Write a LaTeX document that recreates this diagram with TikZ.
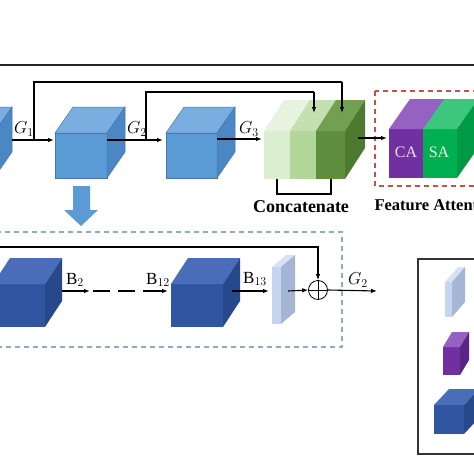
\documentclass[tikz,border=0pt]{standalone}
\usepackage{fontspec}
\setmainfont{Liberation Serif}
\usetikzlibrary{arrows.meta}

\definecolor{lbfront}{HTML}{5B9BD5}
\definecolor{lbtop}{HTML}{7AAEE1}
\definecolor{lbside}{HTML}{4A87C4}
\definecolor{lbedge}{HTML}{4577B0}
\definecolor{dbfront}{HTML}{3056A2}
\definecolor{dbtop}{HTML}{4A6DBA}
\definecolor{dbside}{HTML}{27488B}
\definecolor{slfront}{HTML}{C6D4EF}
\definecolor{sltop}{HTML}{D8E2F6}
\definecolor{slside}{HTML}{A6B5D4}
\definecolor{pufront}{HTML}{7030A0}
\definecolor{putop}{HTML}{9562C2}
\definecolor{puside}{HTML}{5A2686}
\definecolor{grfront}{HTML}{00B050}
\definecolor{grtop}{HTML}{3CC67E}
\definecolor{grside}{HTML}{009A46}
\definecolor{caone}{HTML}{DCEED0}
\definecolor{caonetop}{HTML}{E7F3DE}
\definecolor{catwo}{HTML}{B3D69B}
\definecolor{catwotop}{HTML}{C4E0B1}
\definecolor{cathree}{HTML}{5F8F3E}
\definecolor{cathreetop}{HTML}{72A051}
\definecolor{cathreeside}{HTML}{4E7A30}
\definecolor{redbox}{HTML}{C4504C}
\definecolor{bluebox}{HTML}{8FA9C9}
\definecolor{labelpurple}{HTML}{EBDDF7}
\definecolor{labelgreen}{HTML}{E3F5E8}

% x left, x right, y top, y bottom, depth x, depth y, front, top, side
\newcommand{\blockcube}[9]{%
  \path[cube face,fill=#7] (#1,#3) rectangle (#2,#4);
  \path[cube face,fill=#8] (#1,#3) -- (#2,#3) -- ({#2+#5},{#3+#6}) -- ({#1+#5},{#3+#6}) -- cycle;
  \path[cube face,fill=#9] (#2,#3) -- (#2,#4) -- ({#2+#5},{#4+#6}) -- ({#2+#5},{#3+#6}) -- cycle;
}

\begin{document}
\begin{tikzpicture}[x=1pt, y=-1pt,
    cube face/.style={},
    arr/.style={line width=1.1pt, -{Latex[length=6pt,width=4.5pt]}},
    link/.style={line width=1.1pt},
    glabel/.style={font=\fontsize{17}{19}\selectfont},
    title/.style={font=\bfseries\fontsize{18}{20}\selectfont}]
    \useasboundingbox (0,0) rectangle (474,474);
    \fill[white] (0,0) rectangle (474,474);

    \draw[line width=1.4pt, black!85] (0,65) coordinate (topL) -- (474,65) coordinate (topR);

    % upper row of blocks
    \begin{scope}[cube face/.style={draw=lbedge, line width=0.5pt}]
        \blockcube{-60}{-6}{133}{178}{18}{-26}{lbfront}{lbtop}{lbside}
        \blockcube{55}{107}{133}{178}{18}{-26}{lbfront}{lbtop}{lbside}
        \blockcube{166}{217}{133}{178}{18}{-26}{lbfront}{lbtop}{lbside}
    \end{scope}

    \coordinate (blockA out) at (12,140);
    \coordinate (blockB in) at (54,140);
    \coordinate (blockB out) at (107,140);
    \coordinate (blockC in) at (163,140);
    \coordinate (blockC out) at (217,139);
    \coordinate (concat in) at (262,139);
    \draw[arr] (blockA out) -- (blockB in);
    \draw[arr] (blockB out) -- (blockC in);
    \draw[arr] (blockC out) -- (concat in);
    \node[glabel] (g1) at (24,129) {$G_{1}$};
    \node[glabel] (g2) at (137,129) {$G_{2}$};
    \node[glabel] (g3) at (249,129) {$G_{3}$};

    % concatenation block
    \blockcube{264}{290}{131}{179}{20}{-31}{caone}{caonetop}{caone}
    \blockcube{290}{316}{131}{179}{20}{-31}{catwo}{catwotop}{catwo}
    \blockcube{316}{345}{131}{179}{20}{-31}{cathree}{cathreetop}{cathreeside}

    \coordinate (skipA) at (34,140);
    \coordinate (skipA end) at (342,113);
    \coordinate (skipB) at (146,140);
    \coordinate (skipB end) at (314,113);
    \draw[link] (skipA) |- (342,82) coordinate (skipA turn);
    \draw[arr] (skipA turn) -- (skipA end);
    \draw[link] (skipB) |- (314,92) coordinate (skipB turn);
    \draw[arr] (skipB turn) -- (skipB end);

    \coordinate (bracket left) at (277,179);
    \coordinate (bracket right) at (331,179);
    \draw[link] (bracket left) -- ++(0,15) -| (bracket right);
    \node[title] (concat label) at (301,207) {Concatenate};

    % feature attention
    \draw[redbox, line width=1.3pt, dash pattern=on 5pt off 4pt] (375,91) rectangle (480,186);
    \blockcube{389}{423}{129}{178}{21}{-30}{pufront}{putop}{puside}
    \blockcube{423}{457}{129}{178}{21}{-30}{grfront}{grtop}{grside}
    \node[font=\fontsize{16}{18}\selectfont, text=labelpurple] (ca) at (406,152) {CA};
    \node[font=\fontsize{16}{18}\selectfont, text=labelgreen] (sa) at (439,152) {SA};
    \coordinate (concat out) at (358,138);
    \coordinate (fa in) at (387,138);
    \draw[arr] (concat out) -- (fa in);
    \node[title, font=\bfseries\fontsize{16.5}{18}\selectfont, anchor=west] (fa label) at (371,205) {Feature Attention};

    % expansion arrow
    \fill[lbfront] (73,186) -- (90,186) -- (90,210) -- (98,210) -- (81,226) -- (64,210) -- (73,210) -- cycle;

    % residual group
    \draw[bluebox, line width=1.2pt, dash pattern=on 5pt off 4pt] (-5,232) rectangle (342,347);
    \blockcube{-7}{45}{284}{327}{17}{-26}{dbfront}{dbtop}{dbside}
    \blockcube{171}{223}{284}{327}{17}{-26}{dbfront}{dbtop}{dbside}
    \blockcube{272}{281}{267}{324}{14}{-12}{slfront}{sltop}{slside}

    \node[circle, draw, line width=0.8pt, minimum size=19pt, inner sep=0pt] (plus) at (318,290) {};
    \draw[line width=0.8pt] (plus.north) -- (plus.south) (plus.west) -- (plus.east);

    \coordinate (skip in) at (0,247);
    \draw[line width=1.4pt] (skip in) -| (318,262) coordinate (skip down);
    \draw[arr] (skip down) -- (plus.north);

    \coordinate (rbA out) at (62,291);
    \coordinate (dash start) at (90,291);
    \coordinate (dash end) at (143,291);
    \coordinate (rbL in) at (168,291);
    \coordinate (rbL out) at (232,291);
    \coordinate (conv in) at (269,291);
    \coordinate (conv out) at (288,291);
    \coordinate (group out) at (377,291);
    \draw[arr] (rbA out) -- (dash start);
    \draw[link, dash pattern=on 17pt off 8pt, dash phase=-3pt] (dash start) -- (dash end);
    \draw[arr] (dash end) -- (rbL in);
    \draw[arr] (rbL out) -- (conv in);
    \draw[arr] (conv out) -- (plus.west);
    \draw[arr] (plus.east) -- (group out);
    \node[glabel] (b2) at (75,280) {$\mathrm{B}_{2}$};
    \node[glabel] (b12) at (158,280) {$\mathrm{B}_{12}$};
    \node[glabel] (b13) at (255,279) {$\mathrm{B}_{13}$};
    \node[glabel] (g2 out) at (358,280) {$G_{2}$};

    % legend
    \draw[line width=1.2pt, black!80] (418,259) rectangle (480,454);
    \blockcube{445}{452}{282}{317}{13}{-15}{slfront}{sltop}{slside}
    \blockcube{443}{460}{347}{375}{9}{-15}{pufront}{putop}{puside}
    \blockcube{434}{464}{405}{434}{15}{-16}{dbfront}{dbtop}{dbside}
\end{tikzpicture}
\end{document}
